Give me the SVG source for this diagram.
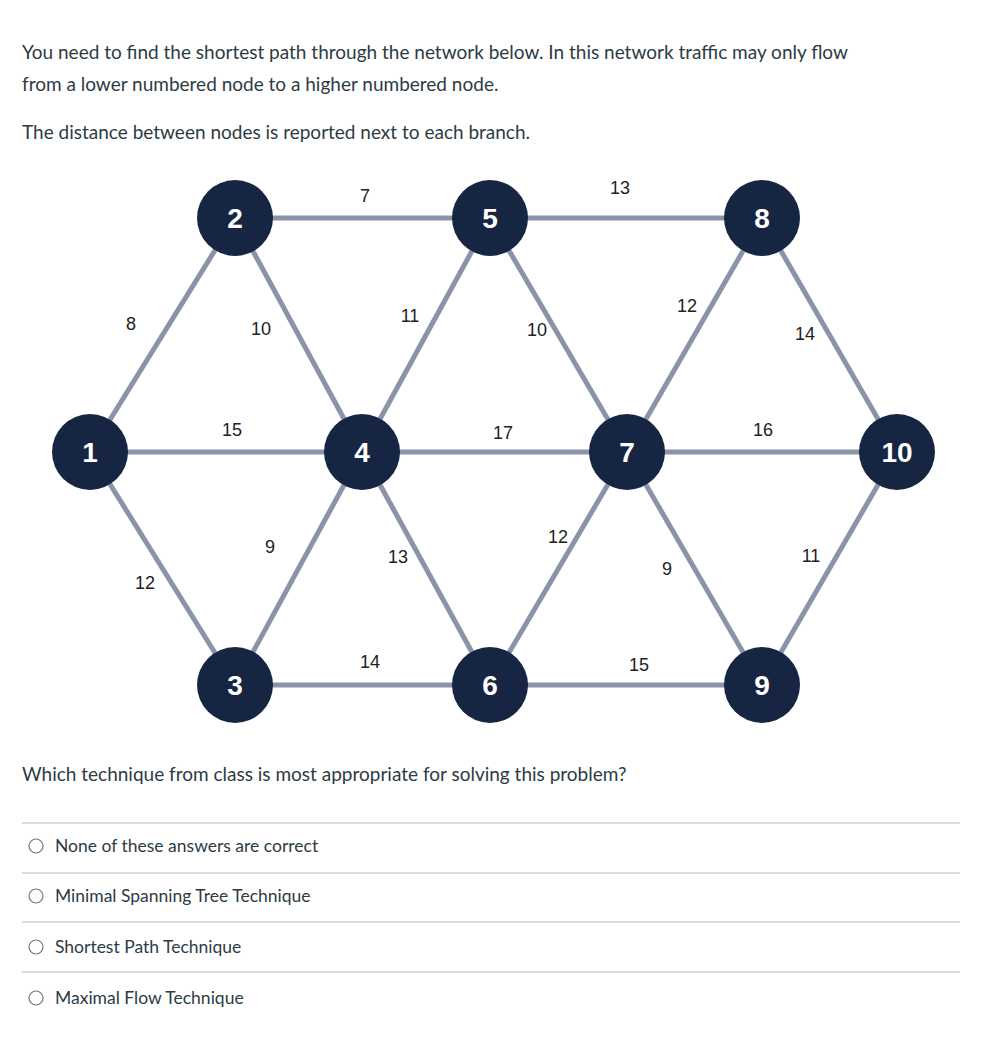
<svg xmlns="http://www.w3.org/2000/svg" width="984" height="1046" viewBox="0 0 984 1046">
<style>
.t{font-family:Lato,"Liberation Sans",sans-serif;font-size:19px;fill:#2d3b45}
.o{font-family:Lato,"Liberation Sans",sans-serif;font-size:17.5px;fill:#2d3b45}
.e line{stroke:#8a93a8;stroke-width:5}
.n circle{fill:#152542}
.n text{font-family:"Liberation Sans",sans-serif;font-weight:bold;font-size:28px;fill:#fff;text-anchor:middle}
.l{font-family:"Liberation Sans",sans-serif;font-size:18px;fill:#222;text-anchor:middle}
.r{fill:#fff;stroke:#777;stroke-width:1.2}
.s{stroke:#d0d0d0;stroke-width:1.5}
</style>
<rect width="984" height="1046" fill="#fff"/>
<text class="t" x="22" y="59">You need to find the shortest path through the network below. In this network traffic may only flow</text>
<text class="t" x="22" y="91">from a lower numbered node to a higher numbered node.</text>
<text class="t" x="22" y="139">The distance between nodes is reported next to each branch.</text>
<g class="e">
<line x1="90" y1="452" x2="235" y2="218"/><line x1="90" y1="452" x2="362" y2="452"/><line x1="90" y1="452" x2="235" y2="685"/>
<line x1="235" y1="218" x2="490" y2="218"/><line x1="235" y1="218" x2="362" y2="452"/><line x1="362" y1="452" x2="490" y2="218"/>
<line x1="490" y1="218" x2="762" y2="218"/><line x1="490" y1="218" x2="627" y2="452"/><line x1="627" y1="452" x2="762" y2="218"/>
<line x1="762" y1="218" x2="897" y2="452"/><line x1="362" y1="452" x2="627" y2="452"/><line x1="627" y1="452" x2="897" y2="452"/>
<line x1="235" y1="685" x2="362" y2="452"/><line x1="362" y1="452" x2="490" y2="685"/><line x1="235" y1="685" x2="490" y2="685"/>
<line x1="490" y1="685" x2="627" y2="452"/><line x1="627" y1="452" x2="762" y2="685"/><line x1="490" y1="685" x2="762" y2="685"/>
<line x1="762" y1="685" x2="897" y2="452"/>
</g>
<g class="l">
<text x="365" y="202">7</text><text x="620" y="194">13</text>
<text x="131" y="330">8</text><text x="261" y="335">10</text><text x="410" y="322">11</text><text x="537" y="336">10</text><text x="687" y="312">12</text><text x="805" y="340">14</text>
<text x="232" y="436">15</text><text x="503" y="439">17</text><text x="763" y="436">16</text>
<text x="270" y="553">9</text><text x="398" y="563">13</text><text x="558" y="543">12</text><text x="667" y="575">9</text><text x="811" y="562">11</text><text x="145" y="589">12</text>
<text x="370" y="668">14</text><text x="639" y="671">15</text>
</g>
<g id="n1" class="n"><circle cx="90" cy="452" r="38"/><text x="90" y="462">1</text></g>
<g id="n2" class="n"><circle cx="235" cy="218" r="38"/><text x="235" y="228">2</text></g>
<g id="n5" class="n"><circle cx="490" cy="218" r="38"/><text x="490" y="228">5</text></g>
<g id="n8" class="n"><circle cx="762" cy="218" r="38"/><text x="762" y="228">8</text></g>
<g id="n4" class="n"><circle cx="362" cy="452" r="38"/><text x="362" y="462">4</text></g>
<g id="n7" class="n"><circle cx="627" cy="452" r="38"/><text x="627" y="462">7</text></g>
<g id="n10" class="n"><circle cx="897" cy="452" r="38"/><text x="897" y="462">10</text></g>
<g id="n3" class="n"><circle cx="235" cy="685" r="38"/><text x="235" y="695">3</text></g>
<g id="n6" class="n"><circle cx="490" cy="685" r="38"/><text x="490" y="695">6</text></g>
<g id="n9" class="n"><circle cx="762" cy="685" r="38"/><text x="762" y="695">9</text></g>
<text class="t" x="22" y="781">Which technique from class is most appropriate for solving this problem?</text>
<line class="s" x1="22" y1="823" x2="960" y2="823"/><line class="s" x1="22" y1="873" x2="960" y2="873"/>
<line class="s" x1="22" y1="922" x2="960" y2="922"/><line class="s" x1="22" y1="972" x2="960" y2="972"/>
<circle class="r" cx="36" cy="846" r="7"/><text class="o" x="55" y="852">None of these answers are correct</text>
<circle class="r" cx="36" cy="896" r="7"/><text class="o" x="55" y="902">Minimal Spanning Tree Technique</text>
<circle class="r" cx="36" cy="947" r="7"/><text class="o" x="55" y="953">Shortest Path Technique</text>
<circle class="r" cx="36" cy="998" r="7"/><text class="o" x="55" y="1004">Maximal Flow Technique</text>
</svg>
